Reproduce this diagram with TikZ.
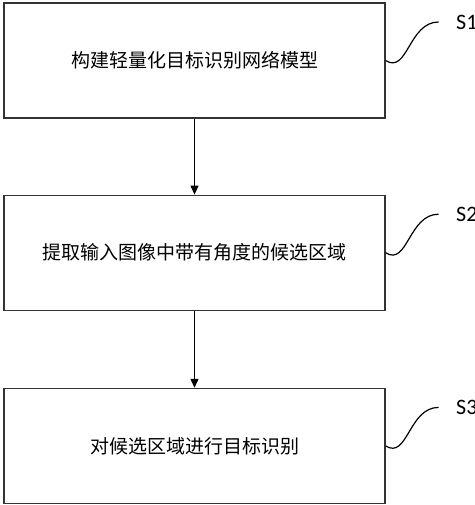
\documentclass[tikz,border=0pt]{standalone}
\usepackage{fontspec}
\newfontfamily\cjk{Noto Sans CJK SC}
\newfontfamily\tagfont{Carlito}
\usetikzlibrary{arrows.meta,positioning,calc}

\begin{document}
\begin{tikzpicture}[->,>={Triangle[length=9pt,width=8pt]},line width=1.2pt,
	step box/.style={rectangle,draw=black!80,fill=white,inner sep=0pt,
		minimum width=381pt,minimum height=115pt,
		font=\cjk\fontsize{19}{24}\selectfont},
	step tag/.style={anchor=west,inner sep=0pt,font=\tagfont\fontsize{22}{26}\selectfont},
	wave/.style={-,draw=black}]

	\useasboundingbox (0,0) rectangle (474pt,-505pt);

	\node[step box] (B1) at (194.5pt,-60.5pt) {构建轻量化目标识别网络模型};
	\node[step box] (B2) [below = 76pt of B1] {提取输入图像中带有角度的候选区域};
	\node[step box] (B3) [below = 77pt of B2] {对候选区域进行目标识别};

	\foreach \i in {1,2,3} {
		\coordinate (E\i) at ($(B\i.east)+(53pt,38.5pt)$);
		\draw[wave] (B\i.east) .. controls ($(B\i.east)+(22pt,-14pt)$)
			and ($(E\i)+(-30pt,0pt)$) .. (E\i);
		\node[step tag] (S\i) at ([xshift=17pt]E\i) {S\i};
	}

	\path[color=black]
	(B1) edge node {} (B2)
	(B2) edge node {} (B3);

\end{tikzpicture}
\end{document}
